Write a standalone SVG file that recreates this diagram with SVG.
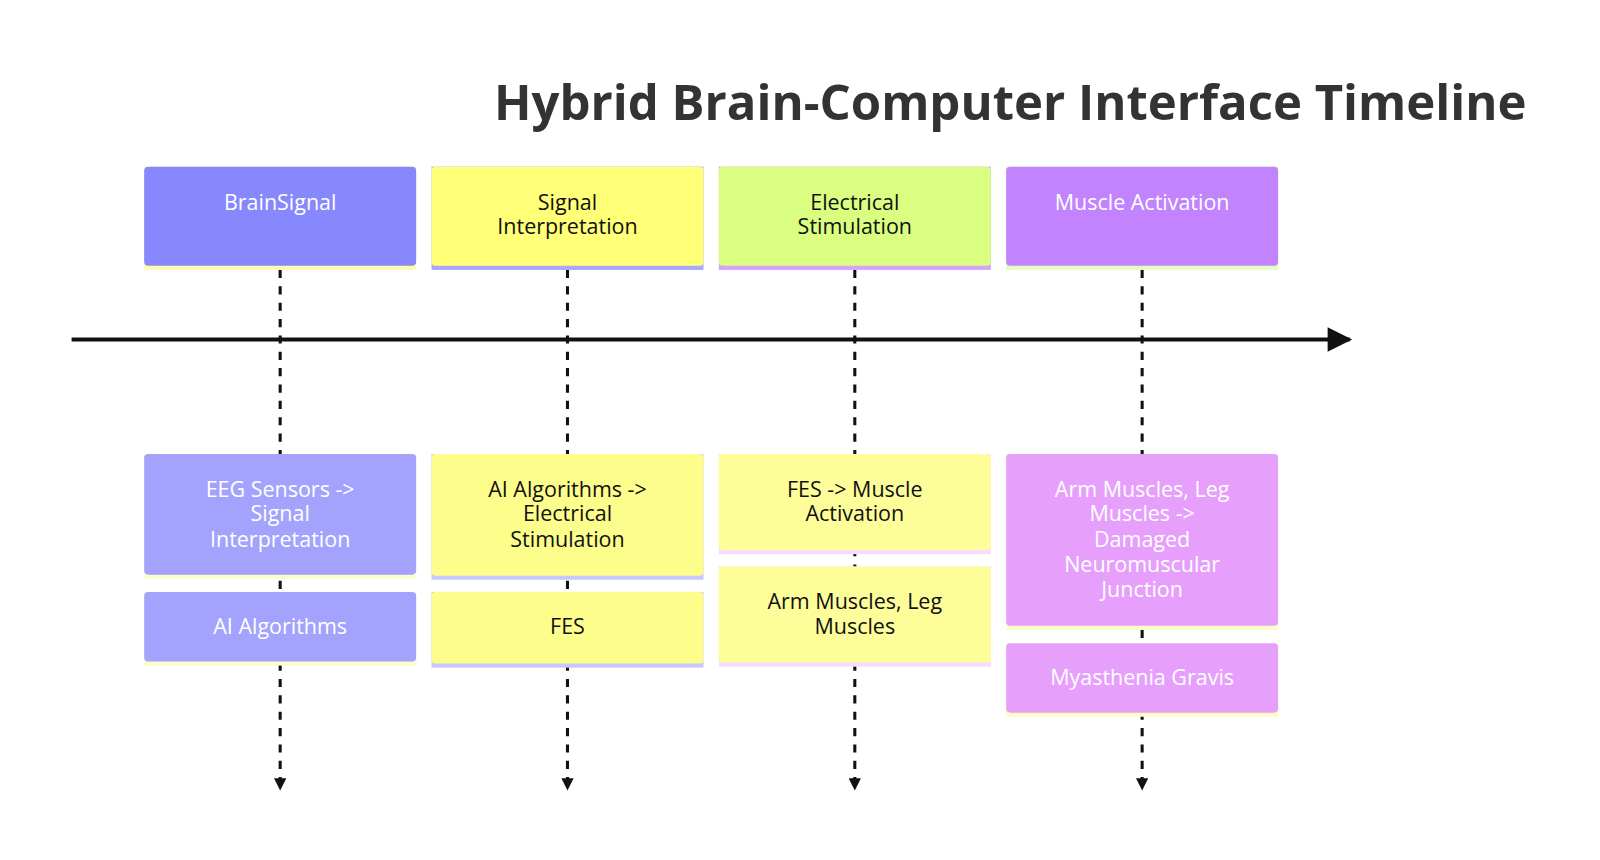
<svg xmlns="http://www.w3.org/2000/svg" width="1600" height="860" viewBox="0 0 1600 860">
<style>
text{font-family:"Open Sans","Liberation Sans",sans-serif;font-size:21px;text-anchor:middle}
.w{fill:#fff}.k{fill:#111}
.t{font-size:48px;font-weight:bold;fill:#333}
.d{stroke:#111;stroke-width:3;stroke-dasharray:8 8;fill:none}
</style>
<defs>
<marker id="a" viewBox="0 0 10 10" refX="9" refY="5" markerWidth="4" markerHeight="4" orient="auto"><path d="M0,0L10,5L0,10z" fill="#111"/></marker>
<marker id="b" viewBox="0 0 10 10" refX="9" refY="5" markerWidth="8" markerHeight="6" orient="auto"><path d="M0,0L10,5L0,10z" fill="#111"/></marker>
</defs>
<rect width="1600" height="860" fill="#fff"/>
<g transform="scale(1.0225)">
<text class="t" x="988" y="117">Hybrid Brain-Computer Interface Timeline</text>
<g id="connectors">
<line class="d" x1="274" y1="264" x2="274" y2="772" marker-end="url(#a)"/>
<line class="d" x1="555" y1="264" x2="555" y2="772" marker-end="url(#a)"/>
<line class="d" x1="836" y1="264" x2="836" y2="772" marker-end="url(#a)"/>
<line class="d" x1="1117" y1="264" x2="1117" y2="772" marker-end="url(#a)"/>
<line x1="70" y1="332" x2="1320" y2="332" stroke="#111" stroke-width="4" marker-end="url(#b)"/>
</g>
<g id="s1">
<rect x="141" y="163" width="266" height="101" fill="#fdfdb0"/><rect x="141" y="163" width="266" height="97" rx="4" fill="#8787fe"/>
<text class="w" x="274" y="205">BrainSignal</text></g>
<g id="s2">
<rect x="422" y="163" width="266" height="101" fill="#a8a8fe"/><rect x="422" y="163" width="266" height="97" rx="4" fill="#ffff78"/>
<text class="k" x="555" y="205">Signal</text><text class="k" x="555" y="229">Interpretation</text></g>
<g id="s3">
<rect x="703" y="163" width="266" height="101" fill="#d2a4fe"/><rect x="703" y="163" width="266" height="97" rx="4" fill="#d9fe80"/>
<text class="k" x="836" y="205">Electrical</text><text class="k" x="836" y="229">Stimulation</text></g>
<g id="s4">
<rect x="984" y="163" width="266" height="101" fill="#e4fdc8"/><rect x="984" y="163" width="266" height="97" rx="4" fill="#c183fe"/>
<text class="w" x="1117" y="205">Muscle Activation</text></g>
<g id="e1a">
<rect x="141" y="444" width="266" height="122" fill="#fdfdc8"/><rect x="141" y="444" width="266" height="118" rx="4" fill="#a3a3fe"/>
<text class="w" x="274" y="486">EEG Sensors -&gt;</text><text class="w" x="274" y="510">Signal</text><text class="w" x="274" y="535">Interpretation</text></g>
<g id="e1b">
<rect x="141" y="579" width="266" height="72" fill="#fdfdc8"/><rect x="141" y="579" width="266" height="68" rx="4" fill="#a3a3fe"/>
<text class="w" x="274" y="620">AI Algorithms</text></g>
<g id="e2a">
<rect x="422" y="444" width="266" height="123" fill="#c8c8fe"/><rect x="422" y="444" width="266" height="119" rx="4" fill="#fdfd8c"/>
<text class="k" x="555" y="486">AI Algorithms -&gt;</text><text class="k" x="555" y="510">Electrical</text><text class="k" x="555" y="535">Stimulation</text></g>
<g id="e2b">
<rect x="422" y="579" width="266" height="74" fill="#c8c8fe"/><rect x="422" y="579" width="266" height="70" rx="4" fill="#fdfd8c"/>
<text class="k" x="555" y="620">FES</text></g>
<g id="e3a">
<rect x="703" y="444" width="266" height="98" fill="#f7dcfd"/><rect x="703" y="444" width="266" height="94" rx="4" fill="#fdfd9a"/>
<text class="k" x="836" y="486">FES -&gt; Muscle</text><text class="k" x="836" y="510">Activation</text></g>
<g id="e3b">
<rect x="703" y="554" width="266" height="98" fill="#f7dcfd"/><rect x="703" y="554" width="266" height="94" rx="4" fill="#fdfd9a"/>
<text class="k" x="836" y="596">Arm Muscles, Leg</text><text class="k" x="836" y="620">Muscles</text></g>
<g id="e4a">
<rect x="984" y="444" width="266" height="172" fill="#fdfdc8"/><rect x="984" y="444" width="266" height="168" rx="4" fill="#e6a0fc"/>
<text class="w" x="1117" y="486">Arm Muscles, Leg</text><text class="w" x="1117" y="510">Muscles -&gt;</text><text class="w" x="1117" y="535">Damaged</text><text class="w" x="1117" y="559">Neuromuscular</text><text class="w" x="1117" y="584">Junction</text></g>
<g id="e4b">
<rect x="984" y="629" width="266" height="72" fill="#fdfdc8"/><rect x="984" y="629" width="266" height="68" rx="4" fill="#e6a0fc"/>
<text class="w" x="1117" y="670">Myasthenia Gravis</text></g>
</g>
</svg>
